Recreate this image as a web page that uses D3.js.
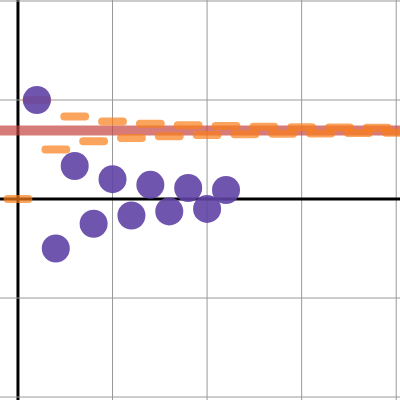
<!DOCTYPE html>
<html><head><meta charset="utf-8">
<script src="https://cdn.jsdelivr.net/npm/d3@7"></script>
<style>body{margin:0;background:#fff}</style>
</head><body><div id="plot"></div>
<script>
// sequence terms a_n = (-1)^(n+1)/n, n = 1..11
var terms = [1, -0.5, 0.3333, -0.25, 0.2, -0.1667, 0.1429, -0.125, 0.1111, -0.1, 0.0909];
// partial sums S_0..S_21
var partialSums = [0, 1, 0.5, 0.8333, 0.5833, 0.7833, 0.6167, 0.7595, 0.6345, 0.7456, 0.6456,
  0.7365, 0.6532, 0.7301, 0.6587, 0.7254, 0.6629, 0.7217, 0.6661, 0.7188, 0.6688, 0.7164];
var limit = 0.6931;
var xGrid = [0, 5, 10, 15, 20];
var yGrid = [-2, -1, 0, 1, 2];

var width = 400, height = 400;
var svg = d3.select('#plot').append('svg').attr('width', width).attr('height', height);

var x = d3.scaleLinear().domain([-0.95, 20.2]).range([0, width]);
var y = d3.scaleLinear().domain([-2.03, 2.01]).range([height, 0]);

svg.selectAll('.gx').data(xGrid).enter().append('line')
  .attr('x1', d => x(d)).attr('x2', d => x(d)).attr('y1', 0).attr('y2', height)
  .style('stroke', d => d === 0 ? '#000' : '#999').style('stroke-width', d => d === 0 ? 3 : 1);
svg.selectAll('.gy').data(yGrid).enter().append('line')
  .attr('y1', d => y(d)).attr('y2', d => y(d)).attr('x1', 0).attr('x2', width)
  .style('stroke', d => d === 0 ? '#000' : '#999').style('stroke-width', d => d === 0 ? 3 : 1);

// limit line
svg.append('line')
  .attr('x1', 0).attr('x2', width).attr('y1', y(limit)).attr('y2', y(limit))
  .style('stroke', '#c74440').style('stroke-width', 10).style('opacity', 0.7);

// partial sums as dashed steps
svg.selectAll('.step').data(partialSums).enter().append('line')
  .attr('x1', (d, i) => x(i - 0.55)).attr('x2', (d, i) => x(i + 0.55))
  .attr('y1', d => y(d)).attr('y2', d => y(d))
  .style('stroke', '#fa7e19').style('stroke-width', 8).style('opacity', 0.7)
  .style('stroke-linecap', 'round');

// terms
svg.selectAll('.pt').data(terms).enter().append('circle')
  .attr('cx', (d, i) => x(i + 1)).attr('cy', d => y(d)).attr('r', 14)
  .style('fill', '#6042a6').style('opacity', 0.9);
</script>
</body></html>
